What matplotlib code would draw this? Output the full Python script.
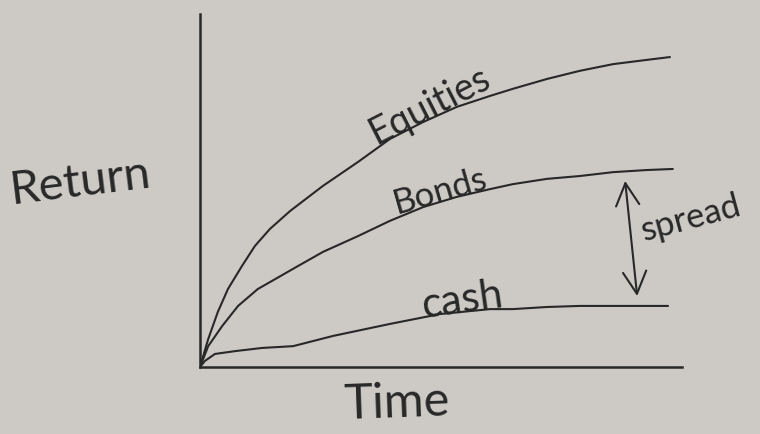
import matplotlib
matplotlib.use('Agg')
import matplotlib.pyplot as plt

# points (time 0-100, return 0-100)
equities_t = [0, 1.7, 3.7, 5.8, 8.7, 11.4, 14.5, 18.7, 25.5, 32.8, 39.4,
              46.3, 53.3, 60.2, 64.9, 72.0, 78.8, 85.7, 92.7, 97.5]
equities_r = [0, 7.9, 15.6, 22.1, 28.6, 34.3, 39.1, 44.2, 51.3, 58.1, 64.6,
              69.4, 73.7, 76.8, 78.8, 81.6, 83.9, 85.8, 87.0, 87.8]

bonds_t = [0, 1.7, 4.6, 7.9, 12.0, 15.6, 19.3, 25.5, 32.8, 39.4, 46.3,
           53.3, 60.2, 64.9, 72.0, 78.8, 85.7, 92.7, 98.1]
bonds_r = [0, 5.9, 11.6, 17.3, 22.1, 24.9, 27.8, 32.6, 37.1, 41.4, 45.3,
           48.2, 50.4, 51.8, 53.3, 54.1, 55.2, 55.8, 56.1]

cash_t = [0, 1.0, 3.1, 7.3, 12.9, 19.3, 27.6, 39.4, 49.8, 60.2, 64.9,
          72.0, 78.8, 85.7, 97.1]
cash_r = [0, 1.7, 3.7, 4.5, 5.4, 5.9, 8.8, 12.2, 15.0, 16.4, 16.4,
          17.0, 17.3, 17.3, 17.3]

ink = '#282828'
paper = '#cdcac6'
font = ['Lato', 'DejaVu Sans']

fig = plt.figure(figsize=(7.6, 4.35), dpi=100, facecolor=paper)
ax = fig.add_axes([200 / 760, 67 / 435, 482 / 760, 353 / 435])
ax.set_facecolor(paper)

for t, r in [(equities_t, equities_r), (bonds_t, bonds_r), (cash_t, cash_r)]:
    ax.plot(t, r, color=ink, lw=1.5, solid_capstyle='round',
            solid_joinstyle='round')

ax.set_xlim(0, 100)
ax.set_ylim(0, 100)
ax.set_xticks([])
ax.set_yticks([])
for side in ['top', 'right']:
    ax.spines[side].set_visible(False)
for side in ['left', 'bottom']:
    ax.spines[side].set_color(ink)
    ax.spines[side].set_linewidth(1.8)

# curve labels written along the lines
ax.text(47.7, 74.5, 'Equities', rotation=27, fontsize=27, color=ink,
        family=font, ha='center', va='center', clip_on=False)
ax.text(49.8, 50.0, 'Bonds', rotation=16, fontsize=25, color=ink,
        family=font, ha='center', va='center', clip_on=False)
ax.text(54.4, 19.2, 'cash', rotation=8, fontsize=30, color=ink,
        family=font, ha='center', va='center', clip_on=False)

# spread between bonds and cash
spread_top = bonds_r[-3] - 2.5
spread_bottom = cash_r[-2] + 2.8
ax.annotate('', xy=(88.2, spread_top), xytext=(90.7, spread_bottom),
            arrowprops=dict(arrowstyle='<->,head_length=0.8,head_width=0.42',
                            color=ink, lw=1.5, mutation_scale=20,
                            shrinkA=0, shrinkB=0),
            annotation_clip=False)
ax.text(102.0, 42.5, 'spread', rotation=15, fontsize=25, color=ink,
        family=font, ha='center', va='center', clip_on=False)

fig.text(80 / 760, 1 - 182 / 435, 'Return', rotation=7, fontsize=34, color=ink,
         family=font, ha='center', va='center')
fig.text(397 / 760, 1 - 403 / 435, 'Time', rotation=2, fontsize=35, color=ink,
         family=font, ha='center', va='center')

fig.savefig('out.png', dpi=100, facecolor=paper)
